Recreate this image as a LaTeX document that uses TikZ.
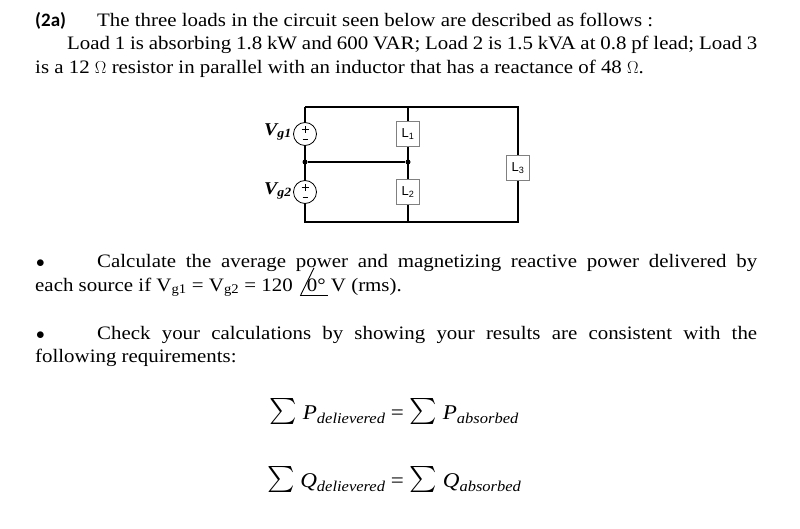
\documentclass[tikz,border=0pt]{standalone}
\usepackage{fontspec}
\setmainfont[FakeStretch=1.1]{Liberation Serif}
\newfontfamily\titlefont{Carlito}
\newfontfamily\boxfont{Liberation Sans}
\newcommand\myangle[1]{\setbox0\hbox{#1}\kern2pt\makebox[0pt][l]{\raisebox{-5pt}{\rotatebox{64}{\rule{31pt}{0.9pt}}}}\makebox[0pt][l]{\raisebox{-5pt}{\rule{\dimexpr\wd0+9pt\relax}{0.9pt}}}\kern7pt\box0}
\newcommand\bigsum{\raisebox{-6pt}{\scalebox{2.6}{$\sum$}}}
\newcommand\mysub[1]{\raisebox{-4pt}{\fontsize{15}{15}\selectfont\itshape #1}}
\begin{document}
\begin{tikzpicture}[x=1pt,y=-1pt,
  txt/.style={anchor=base west,inner sep=0pt,font=\fontsize{19}{22}\selectfont},
  eq/.style={inner sep=0pt,font=\fontsize{21}{24}\selectfont},
  load/.style={draw=gray,fill=white,minimum width=23pt,minimum height=25pt,inner sep=1pt,font=\boxfont\fontsize{13}{14}\selectfont},
  src/.style={circle,draw,thick,fill=white,minimum size=23pt,inner sep=0pt},
  wire/.style={line width=1.1pt},
  dot/.style={circle,fill,inner sep=0pt,minimum size=5pt}]
\useasboundingbox (0,0) rectangle (800,529);
% text
\node[txt] (t0) at (35,27) {\titlefont\bfseries (2a)};
\node[txt] (t1) at (97,27) {The three loads in the circuit seen below are described as follows :};
\node[txt] (t2) at (67,50) {\makebox[690pt][s]{Load 1 is absorbing 1.8 kW and 600 VAR; Load 2 is 1.5 kVA at 0.8 pf lead; Load 3}};
\node[txt] (t3) at (35,74) {is a 12 $\Omega$ resistor in parallel with an inductor that has a reactance of 48 $\Omega$.};
\node[txt] (b1) at (36,268) {$\bullet$};
\node[txt] (t4) at (97,268) {\makebox[660pt][s]{Calculate the average power and magnetizing reactive power delivered by}};
\node[txt] (t5) at (35,291) {each source if V\textsubscript{g1} = V\textsubscript{g2} = 120 \myangle{0\textdegree}\ V (rms).};
\node[txt] (b2) at (36,339) {$\bullet$};
\node[txt] (t6) at (97,339) {\makebox[660pt][s]{Check your calculations by showing your results are consistent with the}};
\node[txt] (t7) at (35,362) {following requirements:};
\node[eq] (e1) at (394,412) {\bigsum\ \textit{P}\mysub{delievered} = \bigsum\ \textit{P}\mysub{absorbed}};
\node[eq] (e2) at (394,480) {\bigsum\ \textit{Q}\mysub{delievered} = \bigsum\ \textit{Q}\mysub{absorbed}};
% circuit
\coordinate (tl) at (305,107); \coordinate (tm) at (408,107); \coordinate (tr) at (518,107);
\coordinate (bl) at (305,222); \coordinate (bm) at (408,222); \coordinate (br) at (518,222);
\node[dot] (ml) at (305,162) {}; \node[dot] (mm) at (408,162) {};
\draw[wire] (tl) -- (tr) -- (br) -- (bl) -- (tl);
\draw[wire] (tm) -- (bm);
\draw[wire] (ml) -- (mm);
\node[src] (v1) at (305,134) {};
\node[src] (v2) at (305,192) {};
\foreach \v in {v1,v2}{
  \draw[thick] ([yshift=4.5pt]\v.center) ++(-3.5pt,0) -- ++(7pt,0) ++(-3.5pt,-3.5pt) -- ++(0,7pt);
  \draw[thick] ([yshift=-5.5pt]\v.center) ++(-2.5pt,0) -- ++(5pt,0);}
\node[font=\bfseries\itshape\fontsize{18}{18}\selectfont,anchor=east,inner sep=1pt] (lv1) at (293,132) {V\textsubscript{\itshape g1}};
\node[font=\bfseries\itshape\fontsize{18}{18}\selectfont,anchor=east,inner sep=1pt] (lv2) at (293,191) {V\textsubscript{\itshape g2}};
\node[load] (L1) at (408,134) {L\textsubscript{1}};
\node[load] (L2) at (408,192) {L\textsubscript{2}};
\node[load] (L3) at (518,168) {L\textsubscript{3}};
\end{tikzpicture}
\end{document}
